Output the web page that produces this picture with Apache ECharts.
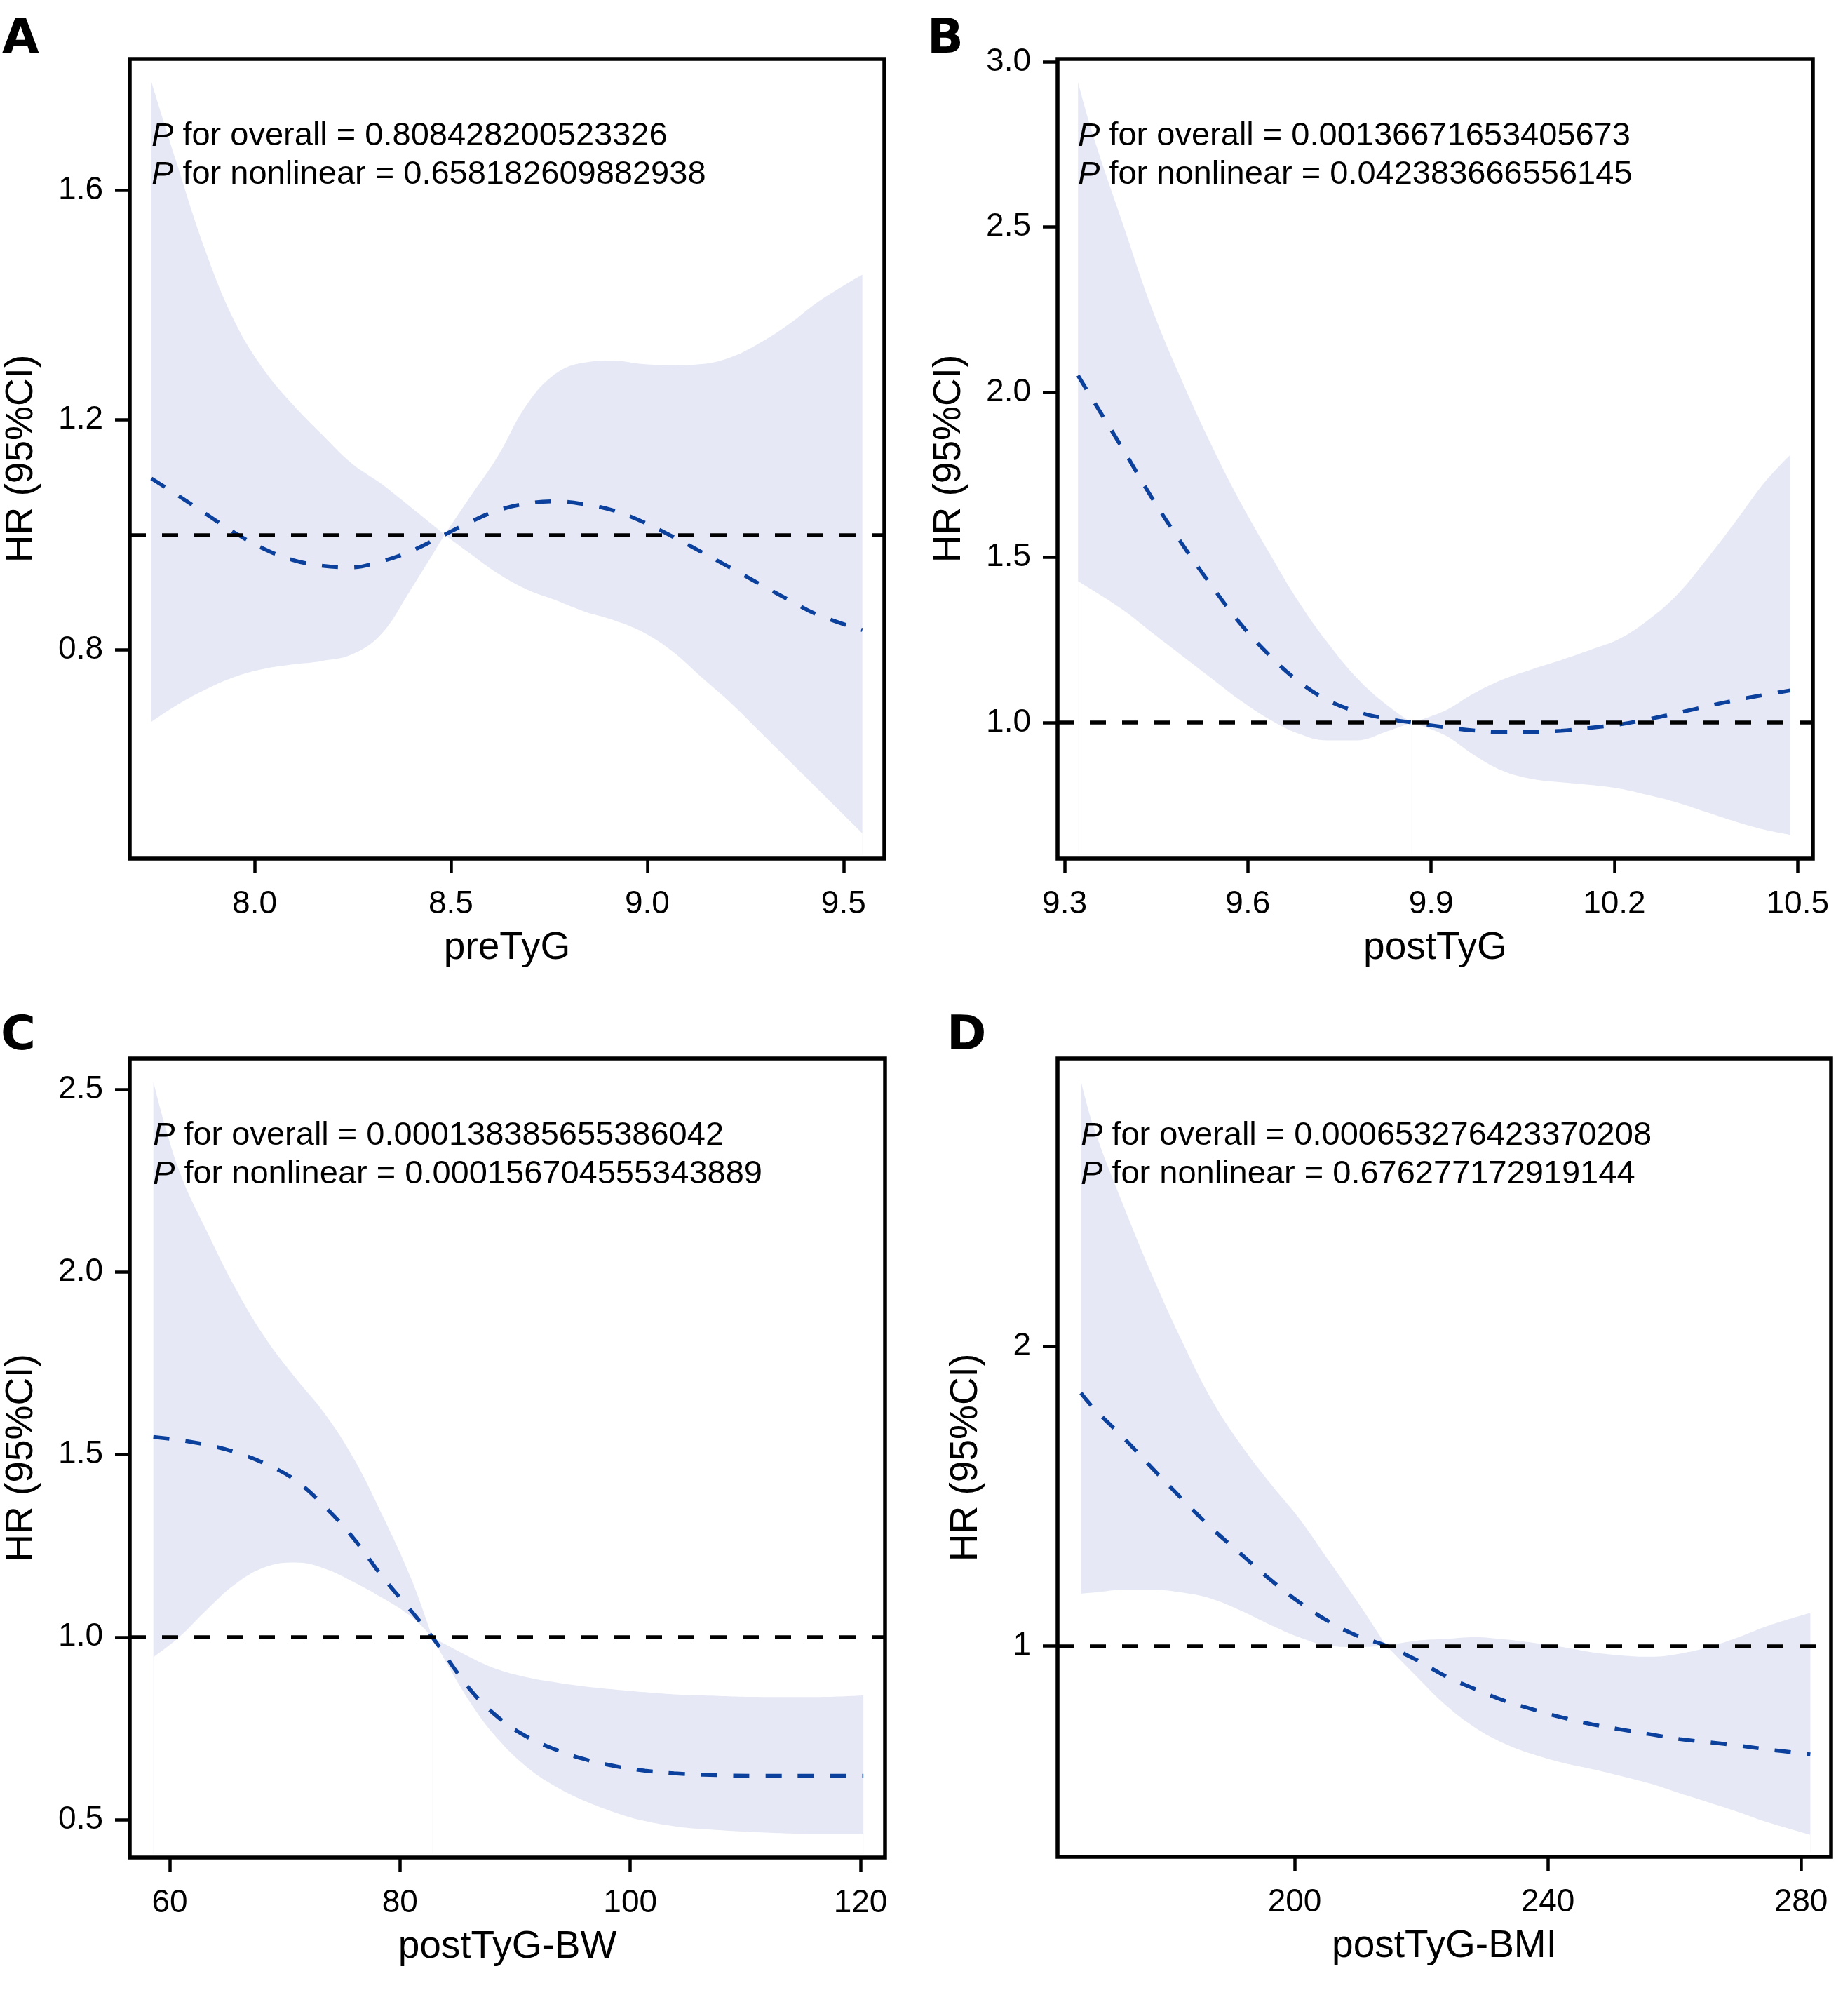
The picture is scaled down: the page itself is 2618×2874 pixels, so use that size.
<!DOCTYPE html>
<html><head><meta charset="utf-8">
<script src="https://cdn.jsdelivr.net/npm/echarts@6/dist/echarts.min.js"></script>
<style>html,body{margin:0;padding:0;background:#fff}#c{width:2618px;height:2874px}</style>
</head><body><div id="c"></div>
<script>
// ---------- Panel A: preTyG ----------
const xA  = [7.737,7.799,7.874,7.948,8.022,8.097,8.171,8.246,8.320,8.394,8.484,8.543,8.618,8.692,8.766,8.841,8.915,8.990,9.064,9.138,9.213,9.287,9.362,9.436,9.548];
const hiA = [1.789,1.653,1.496,1.373,1.289,1.227,1.175,1.125,1.090,1.050,1.000,1.060,1.135,1.225,1.280,1.300,1.303,1.297,1.295,1.297,1.309,1.334,1.367,1.406,1.453];
const loA = [0.674,0.702,0.730,0.752,0.766,0.774,0.780,0.791,0.825,0.900,1.000,0.970,0.933,0.905,0.886,0.866,0.851,0.830,0.797,0.752,0.707,0.657,0.606,0.556,0.480];
const hrA = [1.098,1.071,1.037,1.004,0.976,0.956,0.946,0.943,0.953,0.970,1.000,1.020,1.042,1.054,1.058,1.053,1.042,1.022,0.997,0.970,0.942,0.914,0.886,0.860,0.834];
const xTicksA = [8.0,8.5,9.0,9.5],  xLabelsA = ['8.0','8.5','9.0','9.5'];
const yTicksA = [0.8,1.2,1.6],      yLabelsA = ['0.8','1.2','1.6'];

// ---------- Panel B: postTyG ----------
const xB  = [9.322,9.348,9.396,9.443,9.491,9.539,9.587,9.635,9.682,9.730,9.778,9.826,9.868,9.922,9.969,10.017,10.065,10.113,10.161,10.208,10.256,10.304,10.352,10.400,10.447,10.488];
const hiB = [2.938,2.769,2.506,2.253,2.039,1.845,1.670,1.514,1.369,1.243,1.136,1.055,1.000,1.035,1.087,1.130,1.161,1.189,1.220,1.253,1.311,1.389,1.496,1.612,1.729,1.810];
const loB = [1.428,1.398,1.340,1.272,1.204,1.136,1.068,1.010,0.967,0.946,0.946,0.972,1.000,0.962,0.903,0.854,0.829,0.819,0.811,0.800,0.780,0.757,0.728,0.699,0.675,0.660];
const hrB = [2.050,1.971,1.826,1.680,1.544,1.418,1.301,1.204,1.126,1.068,1.033,1.012,1.000,0.986,0.976,0.971,0.971,0.975,0.984,0.994,1.010,1.029,1.049,1.068,1.084,1.097];
const xTicksB = [9.3,9.6,9.9,10.2,10.5], xLabelsB = ['9.3','9.6','9.9','10.2','10.5'];
const yTicksB = [1.0,1.5,2.0,2.5,3.0],   yLabelsB = ['1.0','1.5','2.0','2.5','3.0'];

// ---------- Panel C: postTyG-BW ----------
const xC  = [58.58,60.76,63.29,65.82,68.35,70.89,73.42,75.95,78.48,81.01,82.80,86.08,88.61,91.14,93.67,96.20,98.73,101.27,103.80,106.33,111.39,116.46,120.25];
const hiC = [2.521,2.283,2.107,1.949,1.817,1.711,1.614,1.491,1.333,1.157,1.000,0.945,0.910,0.889,0.875,0.864,0.856,0.849,0.843,0.840,0.836,0.836,0.840];
const loC = [0.945,0.998,1.077,1.148,1.192,1.204,1.188,1.151,1.107,1.055,1.000,0.822,0.717,0.641,0.588,0.549,0.519,0.496,0.482,0.474,0.465,0.461,0.461];
const hrC = [1.548,1.540,1.526,1.505,1.474,1.430,1.359,1.271,1.165,1.070,1.000,0.857,0.778,0.725,0.690,0.664,0.646,0.634,0.627,0.623,0.620,0.620,0.620];
const xTicksC = [60,80,100,120],          xLabelsC = ['60','80','100','120'];
const yTicksC = [0.5,1.0,1.5,2.0,2.5],    yLabelsC = ['0.5','1.0','1.5','2.0','2.5'];

// ---------- Panel D: postTyG-BMI (log HR axis) ----------
const xD  = [166.24,168.37,173.00,177.62,182.24,186.87,191.49,196.12,200.74,205.36,209.99,214.50,219.24,223.86,228.49,233.11,237.73,242.36,246.98,251.61,256.23,260.86,265.48,270.10,274.73,281.48];
const hiD = [3.690,3.300,2.763,2.345,2.021,1.768,1.593,1.457,1.342,1.219,1.106,1.000,1.012,1.016,1.020,1.015,1.007,0.997,0.985,0.978,0.975,0.982,0.997,1.020,1.047,1.079];
const loD = [1.128,1.131,1.138,1.138,1.131,1.115,1.085,1.050,1.020,1.000,0.997,1.000,0.932,0.872,0.828,0.798,0.778,0.763,0.752,0.740,0.727,0.711,0.696,0.681,0.665,0.646];
const hrD = [1.794,1.729,1.617,1.505,1.404,1.313,1.237,1.166,1.106,1.058,1.023,1.000,0.968,0.932,0.905,0.881,0.863,0.847,0.834,0.824,0.815,0.806,0.800,0.794,0.787,0.778];
const xTicksD = [200,240,280], xLabelsD = ['200','240','280'];
const yTicksD = [1,2],         yLabelsD = ['1','2'];

// ---------- Texts ----------
const letters   = ['A','B','C','D'];
const xNames    = ['preTyG','postTyG','postTyG-BW','postTyG-BMI'];
const yName     = 'HR (95%CI)';
const pOverall  = ['0.808428200523326','0.00136671653405673','0.000138385655386042','0.000653276423370208'];
const pNonlin   = ['0.658182609882938','0.042383666556145','0.000156704555343889','0.676277172919144'];
const refHR = 1;

// ---------- Layout / style ----------
const FONT = "'Liberation Sans', Arial, sans-serif";
const BAND = '#e6e9f5', HRC = '#0b409c';
const panels = [
  {x:xA, lo:loA, hi:hiA, hr:hrA, xt:xTicksA, xl:xLabelsA, yt:yTicksA, yl:yLabelsA, ytype:'value',
   grid:{left:185, top:84, width:1076, height:1140}, xr:[7.682,9.604], yr:[0.436,1.8285], yGap:127,
   txt:{left:216, top:167}, let:{left:3, top:22}},
  {x:xB, lo:loB, hi:hiB, hr:hrB, xt:xTicksB, xl:xLabelsB, yt:yTicksB, yl:yLabelsB, ytype:'value',
   grid:{left:1508, top:84, width:1077, height:1140}, xr:[9.2885,10.525], yr:[0.588,3.0085], yGap:127,
   txt:{left:1537, top:167}, let:{left:1322, top:22}},
  {x:xC, lo:loC, hi:hiC, hr:hrC, xt:xTicksC, xl:xLabelsC, yt:yTicksC, yl:yLabelsC, ytype:'value',
   grid:{left:185, top:1509, width:1077, height:1139}, xr:[56.53,122.13], yr:[0.3963,2.5845], yGap:127,
   txt:{left:218, top:1592}, let:{left:1, top:1443}},
  {x:xD, lo:loD, hi:hiD, hr:hrD, xt:xTicksD, xl:xLabelsD, yt:yTicksD, yl:yLabelsD, ytype:'log',
   grid:{left:1508, top:1509, width:1103, height:1138}, xr:[162.55,284.76], yr:[0.614,3.888], yGap:103,
   txt:{left:1541, top:1592}, let:{left:1350, top:1443}}
];

function labelOf(ticks, labels, v) {
  let best = 0, d = Infinity;
  ticks.forEach((t, i) => { const e = Math.abs(t - v); if (e < d) { d = e; best = i; } });
  return labels[best];
}

const grids = [], xAxes = [], yAxes = [], series = [], titles = [];
panels.forEach((p, i) => {
  grids.push(Object.assign({show:true, borderColor:'#000', borderWidth:5.5, backgroundColor:'transparent', containLabel:false}, p.grid));
  const tickStyle = {show:true, inside:false, length:21, lineStyle:{color:'#000', width:4.5}};
  const labStyle = {fontSize:46, fontFamily:FONT, color:'#000', lineHeight:46};
  xAxes.push({type:'value', gridIndex:i, min:p.xr[0], max:p.xr[1], position:'bottom',
    name:xNames[i], nameLocation:'middle', nameGap:100,
    nameTextStyle:{fontSize:55, fontFamily:FONT, color:'#000', lineHeight:55},
    axisLine:{show:false, onZero:false},
    axisTick:Object.assign({customValues:p.xt}, tickStyle),
    axisLabel:Object.assign({customValues:p.xt, margin:42, formatter:v => labelOf(p.xt, p.xl, v)}, labStyle),
    splitLine:{show:false}});
  yAxes.push({type:p.ytype, gridIndex:i, min:p.yr[0], max:p.yr[1], position:'left',
    name:yName, nameLocation:'middle', nameGap:p.yGap,
    nameTextStyle:{fontSize:55, fontFamily:FONT, color:'#000', lineHeight:55},
    axisLine:{show:false, onZero:false},
    axisTick:Object.assign({customValues:p.yt}, tickStyle),
    axisLabel:Object.assign({customValues:p.yt, margin:38, formatter:v => labelOf(p.yt, p.yl, v)}, labStyle),
    splitLine:{show:false}});

  // area baseline a few pixels above the bottom border
  const base = p.ytype === 'log' ? p.yr[0] * Math.pow(p.yr[1] / p.yr[0], 0.005)
                                 : p.yr[0] + (p.yr[1] - p.yr[0]) * 0.005;
  // confidence band: upper curve filled in band colour, lower curve masked in white;
  // split at the knot where the CI width is zero so the pinch stays sharp
  const k = p.hi.findIndex((h, j) => Math.abs(h - p.lo[j]) < 1e-9);
  [[0, k], [k, p.x.length - 1]].forEach(seg => {
    const idx = [];
    for (let j = seg[0]; j <= seg[1]; j++) idx.push(j);
    series.push({type:'line', xAxisIndex:i, yAxisIndex:i, smooth:0.4, symbol:'none', silent:true, z:1,
      lineStyle:{opacity:0}, areaStyle:{color:BAND, opacity:1, origin:base}, emphasis:{disabled:true},
      data: idx.map(j => [p.x[j], p.hi[j]])});
    series.push({type:'line', xAxisIndex:i, yAxisIndex:i, smooth:0.4, symbol:'none', silent:true, z:2,
      lineStyle:{opacity:0}, areaStyle:{color:'#ffffff', opacity:1, origin:base}, emphasis:{disabled:true},
      data: idx.map(j => [p.x[j], p.lo[j]])});
  });
  // HR curve + reference line
  series.push({type:'line', xAxisIndex:i, yAxisIndex:i, smooth:0.4, symbol:'none', silent:true, z:3,
    lineStyle:{color:HRC, width:5.5, type:[23,23]}, emphasis:{disabled:true},
    data: p.x.map((x, j) => [x, p.hr[j]]),
    markLine:{silent:true, symbol:['none','none'], label:{show:false}, animation:false,
      lineStyle:{color:'#000', width:5.5, type:[23,23]}, emphasis:{disabled:true},
      data:[{yAxis:refHR}]}});

  titles.push({text:'{i|P} for overall = ' + pOverall[i] + '\n{i|P} for nonlinear = ' + pNonlin[i],
    left:p.txt.left, top:p.txt.top, padding:0,
    textStyle:{fontSize:47, fontFamily:FONT, fontWeight:'normal', color:'#000', lineHeight:55,
      rich:{i:{fontStyle:'italic', fontSize:47, fontFamily:FONT, color:'#000', lineHeight:55}}}});
  titles.push({text:letters[i], left:p.let.left, top:p.let.top, padding:0,
    textStyle:{fontSize:68, fontFamily:"'DejaVu Sans', sans-serif", fontWeight:'bold', color:'#000', lineHeight:70}});
});

const chart = echarts.init(document.getElementById('c'), null, {renderer:'canvas', width:2618, height:2874});
chart.setOption({
  backgroundColor:'#fff', animation:false,
  title:titles, grid:grids, xAxis:xAxes, yAxis:yAxes, series:series
});
</script></body></html>
